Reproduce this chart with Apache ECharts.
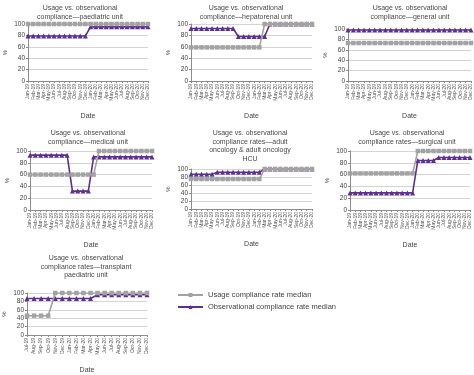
<!DOCTYPE html>
<html>
<head>
<meta charset="utf-8">
<script src="https://cdn.jsdelivr.net/npm/echarts@6/dist/echarts.min.js"></script>
<style>
  html, body { margin: 0; padding: 0; background: #fff; }
  #chart { width: 474px; height: 375px; }
</style>
</head>
<body>
<div id="chart"></div>
<script>
var chart = echarts.init(document.getElementById("chart"));

// categories
var months24 = ["Jan-19","Feb-19","Mar-19","Apr-19","May-19","Jun-19","Jul-19","Aug-19","Sep-19","Oct-19","Nov-19","Dec-19",
                "Jan-20","Feb-20","Mar-20","Apr-20","May-20","Jun-20","Jul-20","Aug-20","Sep-20","Oct-20","Nov-20","Dec-20"];
var months18 = ["Jul-19","Aug-19","Sep-19","Oct-19","Nov-19","Dec-19",
                "Jan-20","Feb-20","Mar-20","Apr-20","May-20","Jun-20","Jul-20","Aug-20","Sep-20","Oct-20","Nov-20","Dec-20"];

var yTicks = [0, 20, 40, 60, 80, 100];

// series values
var paedUsage = [100,100,100,100,100,100,100,100,100,100,100,100,100,100,100,100,100,100,100,100,100,100,100,100];
var paedObs   = [79,79,79,79,79,79,79,79,79,79,79,79,95,95,95,95,95,95,95,95,95,95,95,95];

var hepUsage = [59,59,59,59,59,59,59,59,59,59,59,59,59,59,100,100,100,100,100,100,100,100,100,100];
var hepObs   = [92,92,92,92,92,92,92,92,92,78,78,78,78,78,78,100,100,100,100,100,100,100,100,100];

var genUsage = [73,73,73,73,73,73,73,73,73,73,73,73,73,73,73,73,73,73,73,73,73,73,73,73];
var genObs   = [98,98,98,98,98,98,98,98,98,98,98,98,98,98,98,98,98,98,98,98,98,98,98,98];

var medUsage = [60,60,60,60,60,60,60,60,60,60,60,60,60,100,100,100,100,100,100,100,100,100,100,100];
var medObs   = [93,93,93,93,93,93,93,93,32,32,32,32,90,90,90,90,90,90,90,90,90,90,90,90];

var oncUsage = [75,75,75,75,75,75,75,75,75,75,75,75,75,75,100,100,100,100,100,100,100,100,100,100];
var oncObs   = [87,87,87,87,87,92,92,92,92,92,92,92,92,92,100,100,100,100,100,100,100,100,100,100];

var surgUsage = [62,62,62,62,62,62,62,62,62,62,62,62,62,100,100,100,100,100,100,100,100,100,100,100];
var surgObs   = [29,29,29,29,29,29,29,29,29,29,29,29,29,84,84,84,84,89,89,89,89,89,89,89];

var trUsage = [46,46,46,46,100,100,100,100,100,100,100,100,100,100,100,100,100,100];
var trObs   = [87,87,87,87,87,87,87,87,87,87,96,96,96,96,96,96,96,96];

var titles = [
  "Usage vs. observational\ncompliance\u2014paediatric unit",
  "Usage vs. observational\ncompliance\u2014hepatorenal unit",
  "Usage vs. observational\ncompliance\u2014general unit",
  "Usage vs. observational\ncompliance\u2014medical unit",
  "Usage vs. observational\ncompliance rates\u2014adult\noncology & adult oncology\nHCU",
  "Usage vs. observational\ncompliance rates\u2014surgical unit",
  "Usage vs. observational\ncompliance rates\u2014transplant\npaediatric unit"
];

var usageName = "Usage compliance rate median";
var obsName = "Observational compliance rate median";
var grey = "#a3a3a3";
var purple = "#5e2f92";

// layout of each small chart
var panels = [
  {cats: months24, usage: paedUsage, obs: paedObs, tx: 80,  ty: 4,   grid: {left: 28,  top: 24,  width: 120, height: 57}},
  {cats: months24, usage: hepUsage,  obs: hepObs,  tx: 246, ty: 4,   grid: {left: 191, top: 24,  width: 121, height: 57}},
  {cats: months24, usage: genUsage,  obs: genObs,  tx: 410, ty: 4,   grid: {left: 348, top: 29,  width: 123, height: 52}},
  {cats: months24, usage: medUsage,  obs: medObs,  tx: 88,  ty: 129, grid: {left: 30,  top: 151, width: 122, height: 59}},
  {cats: months24, usage: oncUsage,  obs: oncObs,  tx: 250, ty: 129, grid: {left: 191, top: 169, width: 121, height: 40}},
  {cats: months24, usage: surgUsage, obs: surgObs, tx: 407, ty: 129, grid: {left: 350, top: 151, width: 120, height: 59}},
  {cats: months18, usage: trUsage,   obs: trObs,   tx: 86,  ty: 254, grid: {left: 27,  top: 293, width: 120, height: 45}}
];

var titleList = [], grids = [], xAxes = [], yAxes = [], series = [];

panels.forEach(function (p, i) {
  titleList.push({
    text: titles[i],
    left: p.tx,
    top: p.ty,
    textAlign: "center",
    padding: 0,
    textStyle: {fontSize: 7, fontWeight: "normal", color: "#4a4a4a", lineHeight: 8.5, fontFamily: "Liberation Sans"}
  });
  grids.push(p.grid);
  xAxes.push({
    type: "category",
    gridIndex: i,
    data: p.cats,
    boundaryGap: false,
    name: "Date",
    nameLocation: "middle",
    nameGap: 32,
    nameTextStyle: {fontSize: 7, color: "#444", fontFamily: "Liberation Sans"},
    axisLine: {lineStyle: {color: "#8c8c8c", width: 1}},
    axisTick: {show: true, interval: 0, length: 2, lineStyle: {color: "#8c8c8c"}},
    axisLabel: {interval: 0, rotate: 90, fontSize: 5, color: "#555", margin: 3, fontFamily: "Liberation Sans"},
    splitLine: {show: false}
  });
  yAxes.push({
    type: "value",
    gridIndex: i,
    min: yTicks[0],
    max: yTicks[yTicks.length - 1],
    interval: yTicks[1] - yTicks[0],
    name: "%",
    nameLocation: "middle",
    nameGap: 20,
    nameTextStyle: {fontSize: 6, color: "#444", fontFamily: "Liberation Sans"},
    axisLine: {show: true, lineStyle: {color: "#8c8c8c", width: 1}},
    axisTick: {show: true, length: 2, lineStyle: {color: "#8c8c8c"}},
    axisLabel: {fontSize: 6.5, color: "#444", margin: 3, fontFamily: "Liberation Sans"},
    splitLine: {show: true, lineStyle: {color: "#d4d4d4", width: 1}}
  });
  series.push({
    name: obsName,
    type: "line",
    xAxisIndex: i,
    yAxisIndex: i,
    data: p.obs,
    symbol: "triangle",
    symbolSize: 5,
    showAllSymbol: true,
    itemStyle: {color: purple},
    lineStyle: {color: purple, width: 1.6},
    z: 2,
    animation: false
  });
  series.push({
    name: usageName,
    type: "line",
    xAxisIndex: i,
    yAxisIndex: i,
    data: p.usage,
    symbol: "rect",
    symbolSize: 4.5,
    showAllSymbol: true,
    itemStyle: {color: grey},
    lineStyle: {color: grey, width: 1.6},
    z: 3,
    animation: false
  });
});

chart.setOption({
  animation: false,
  title: titleList,
  grid: grids,
  xAxis: xAxes,
  yAxis: yAxes,
  legend: {
    data: [usageName, obsName],
    orient: "vertical",
    left: 177,
    top: 291,
    itemWidth: 25,
    itemHeight: 5,
    itemGap: 4,
    padding: 0,
    textStyle: {fontSize: 7.5, color: "#444", fontFamily: "Liberation Sans"}
  },
  series: series
});
</script>
</body>
</html>
